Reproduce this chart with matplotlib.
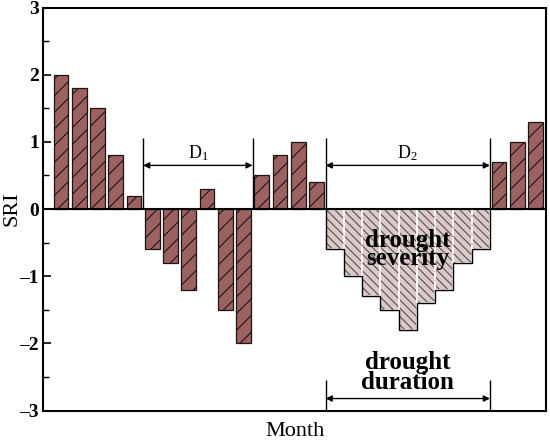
import numpy as np
import matplotlib
matplotlib.use('Agg')
import matplotlib.pyplot as plt

plt.rcParams['font.family'] = ['Liberation Serif', 'DejaVu Serif']
plt.rcParams['mathtext.fontset'] = 'custom'
plt.rcParams['mathtext.rm'] = 'Liberation Serif'
plt.rcParams['mathtext.it'] = 'Liberation Serif:italic'
plt.rcParams['hatch.linewidth'] = 0.8

# SRI values by month
before_sri = [2.0, 1.8, 1.5, 0.8, 0.2, -0.6, -0.8, -1.2, 0.3, -1.5, -2.0, 0.5, 0.8, 1.0, 0.4]
drought_sri = [-0.6, -1.0, -1.3, -1.5, -1.8, -1.4, -1.2, -0.8, -0.6]
after_sri = [0.7, 1.0, 1.3]

# run boundaries (month positions)
d1_span = (4.5, 10.5)
d2_span = (14.5, 23.5)

yticks = [-3, -2, -1, 0, 1, 2, 3]

brown = '#9c6161'
light = '#dccaca'

n_before = len(before_sri)
n_drought = len(drought_sri)
x_before = np.arange(n_before)
x_drought = np.arange(n_before, n_before + n_drought)
x_after = np.arange(n_before + n_drought, n_before + n_drought + len(after_sri))

fig, ax = plt.subplots(figsize=(5.5, 4.42), dpi=100)
fig.subplots_adjust(left=0.078, right=0.993, bottom=0.071, top=0.983)

# ordinary months
ax.bar(x_before, before_sri, width=0.8, color=brown, edgecolor='#1e1414',
       linewidth=0.9, hatch='//', zorder=2)
ax.bar(x_after, after_sri, width=0.8, color=brown, edgecolor='#1e1414',
       linewidth=0.9, hatch='//', zorder=2)

# drought run: filled hatched bars, white separators, black outline
ax.bar(x_drought, drought_sri, width=1.0, color=light, edgecolor='#5a5050',
       linewidth=0, hatch='\\\\\\\\', zorder=2)
ax.bar(x_drought, drought_sri, width=1.0, facecolor='none', edgecolor='white',
       linewidth=1.2, linestyle=(0, (4, 1.5)), zorder=3)
edges = np.append(x_drought - 0.5, x_drought[-1] + 0.5)
ax.stairs(drought_sri, edges, baseline=0, color='black', linewidth=1.0, zorder=4)

ax.axhline(0, color='black', linewidth=1.5, zorder=5)

# D1 and D2 markers
for span, label in [(d1_span, r'D$_{\mathrm{1}}$'), (d2_span, r'D$_{\mathrm{2}}$')]:
    ax.vlines(span, 0, 1.06, color='black', linewidth=1.0, zorder=5)
    ax.annotate('', xy=(span[0], 0.65), xytext=(span[1], 0.65),
                arrowprops=dict(arrowstyle='<|-|>', color='black', lw=1.0,
                                mutation_scale=9, shrinkA=0, shrinkB=0))
    ax.text(sum(span) / 2, 0.83, label, ha='center', va='center', fontsize=13)

# drought duration marker
ax.vlines(d2_span, -3, -2.55, color='black', linewidth=1.0, zorder=5)
ax.annotate('', xy=(d2_span[0], -2.82), xytext=(d2_span[1], -2.82),
            arrowprops=dict(arrowstyle='<|-|>', color='black', lw=1.0,
                            mutation_scale=9, shrinkA=0, shrinkB=0))
ax.text(sum(d2_span) / 2, -2.43, 'drought\nduration', ha='center', va='center',
        fontsize=18, fontweight='bold', linespacing=0.8)
ax.text(sum(d2_span) / 2, -0.6, 'drought\nseverity', ha='center', va='center',
        fontsize=18, fontweight='bold', linespacing=0.75, zorder=6)

ax.set_xlim(-0.99, 26.58)
ax.set_ylim(-3, 3)
ax.set_xticks([])
ax.set_yticks(yticks)
ax.set_yticklabels([str(t).replace('-', '\u2013') for t in yticks],
                   fontsize=14, fontweight='bold')
ax.set_yticks(np.arange(-2.5, 3, 1.0), minor=True)
ax.tick_params(axis='y', which='major', direction='in', length=6, width=1.2, pad=3)
ax.tick_params(axis='y', which='minor', direction='in', length=4, width=1.0)
for s in ax.spines.values():
    s.set_linewidth(1.5)

ax.set_xlabel('Month', fontsize=16, labelpad=8)
ax.set_ylabel('SRI', fontsize=16)
ax.yaxis.set_label_coords(-0.042, 0.5)

fig.savefig('out.png', dpi=100)
